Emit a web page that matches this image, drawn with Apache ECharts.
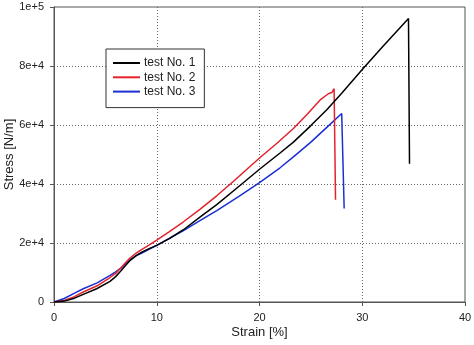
<!DOCTYPE html>
<html>
<head>
<meta charset="utf-8">
<style>
  html, body { margin: 0; padding: 0; background: #fff; }
  #chart { width: 474px; height: 345px; }
</style>
<script src="https://cdn.jsdelivr.net/npm/echarts@6/dist/echarts.min.js"></script>
</head>
<body>
<div id="chart"></div>
<script>
// Tensile tests: strain [%] against stress [N/m]
const seriesNames = ['test No. 1', 'test No. 2', 'test No. 3'];
const seriesColors = ['#000000', '#e3222c', '#1b2fd2'];

const strain1 = [0, 1, 2, 2.85, 4.15, 5.45, 6.0, 6.5, 7.0, 7.4, 8.0, 8.5, 9.2, 10, 11.2, 12.6, 14.2, 15.84, 18.1, 20, 22, 23.3, 25, 26.55, 28, 30, 32, 34.5, 34.6];
const stress1 = [0, 300, 1300, 2600, 4500, 7000, 8600, 10500, 12500, 14100, 15700, 16800, 18000, 19200, 21500, 24500, 28800, 33000, 39500, 45000, 50500, 54200, 59800, 65200, 70800, 78800, 86600, 96100, 46900];

const strain2 = [0, 1, 2, 2.85, 4.2, 5.45, 6.0, 6.5, 7.0, 7.4, 8.0, 8.4, 9.2, 10, 11.2, 12.6, 14.2, 15.84, 17.5, 19.1, 20.06, 21.7, 23.3, 24.6, 25.9, 26.7, 27.04, 27.26, 27.4];
const stress2 = [0, 500, 1800, 3400, 5500, 8300, 9700, 11500, 13500, 14900, 16600, 17500, 19200, 21000, 23800, 27200, 31400, 36000, 41000, 46000, 49000, 53800, 58800, 63500, 68500, 70600, 71000, 72300, 34700];

const strain3 = [0, 1, 2, 2.85, 4.2, 5.45, 6.0, 6.5, 7.0, 7.4, 8.0, 8.5, 9.2, 10, 11.2, 12.6, 14.2, 15.84, 18, 20, 22, 23.3, 25, 26.55, 28.0, 28.24];
const stress3 = [0, 1200, 3000, 4500, 6500, 9000, 10200, 11500, 13000, 14200, 15700, 16500, 17800, 19200, 21500, 24200, 27600, 31000, 35800, 40500, 45500, 49200, 54200, 59200, 63900, 31700];

const yTickLabels = { 0: '0', 20000: '2e+4', 40000: '4e+4', 60000: '6e+4', 80000: '8e+4', 100000: '1e+5' };

const pairs = (xs, ys) => xs.map((x, i) => [x, ys[i]]);
const curves = [pairs(strain1, stress1), pairs(strain2, stress2), pairs(strain3, stress3)];

const font = '"Liberation Sans", Arial, sans-serif';
const axisColor = '#555';
const gridLine = { show: true, showMinLine: false, showMaxLine: false,
  lineStyle: { color: '#666', type: [1, 2], width: 1 } };

const chart = echarts.init(document.getElementById('chart'), null, { renderer: 'canvas' });
chart.setOption({
  animation: false,
  backgroundColor: '#fff',
  grid: { left: 54, right: 9, top: 7, bottom: 43, outerBoundsMode: 'none', containLabel: false,
    show: true, borderColor: axisColor, borderWidth: 1 },
  legend: {
    left: 106, top: 49, orient: 'vertical',
    data: seriesNames.map(n => ({ name: n, icon: 'rect' })),
    itemWidth: 27, itemHeight: 2, itemGap: 2.3,
    padding: [8, 9, 10, 7],
    borderColor: '#333', borderWidth: 1, backgroundColor: '#fff',
    textStyle: { fontFamily: font, fontSize: 12, color: '#222', lineHeight: 12, padding: [0, 0, 0, -1] }
  },
  xAxis: {
    type: 'value', min: 0, max: 40, interval: 10,
    name: 'Strain [%]', nameLocation: 'middle', nameGap: 24, nameMoveOverlap: false,
    nameTextStyle: { fontFamily: font, fontSize: 13, color: '#222', verticalAlign: 'top' },
    axisLine: { lineStyle: { color: axisColor } },
    axisTick: { show: true, inside: false, length: 4, lineStyle: { color: axisColor } },
    axisLabel: { fontFamily: font, fontSize: 11, color: '#222', margin: 10 },
    splitLine: gridLine
  },
  yAxis: {
    type: 'value', min: 0, max: 100000, interval: 20000,
    name: 'Stress [N/m]', nameLocation: 'middle', nameGap: 38, nameRotate: 90, nameMoveOverlap: false,
    nameTextStyle: { fontFamily: font, fontSize: 13, color: '#222' },
    axisLine: { show: true, lineStyle: { color: axisColor } },
    axisTick: { show: true, inside: false, length: 4, lineStyle: { color: axisColor } },
    axisLabel: { fontFamily: font, fontSize: 11, color: '#222', margin: 10,
      formatter: v => yTickLabels[v] !== undefined ? yTickLabels[v] : '' },
    splitLine: gridLine
  },
  series: curves.map((data, i) => ({
    name: seriesNames[i], type: 'line', data,
    showSymbol: false, smooth: false,
    lineStyle: { color: seriesColors[i], width: 1.5 },
    itemStyle: { color: seriesColors[i] },
    z: 3 - i
  }))
});
</script>
</body>
</html>
